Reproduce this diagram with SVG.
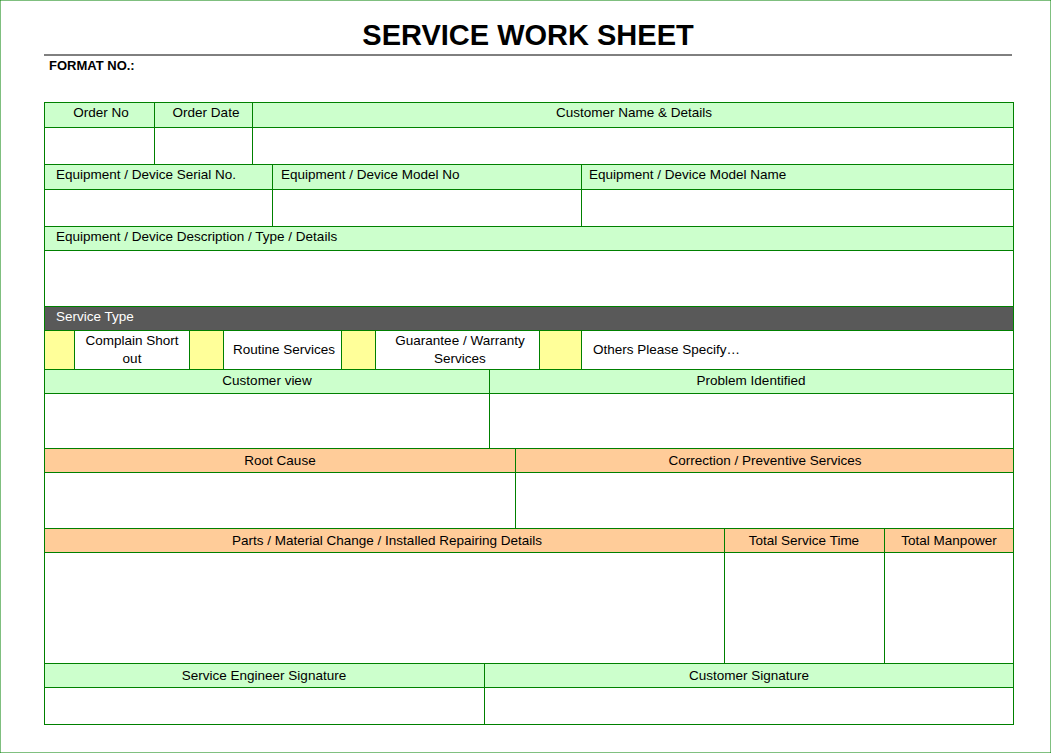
<svg xmlns="http://www.w3.org/2000/svg" width="1051" height="753" viewBox="0 0 1051 753">
<style>
text{font-family:"Liberation Sans",Arial,sans-serif;font-size:13.5px;fill:#000}
.c{text-anchor:middle}
.g{fill:#CCFFCC}.y{fill:#FFFF99}.o{fill:#FFCC99}.w{fill:#fff}
line,rect{stroke:#008000;stroke-width:1}
</style>
<rect width="1051" height="753" fill="#fff" stroke="none"/>
<text x="528" y="45" class="c" style="font-size:29px;font-weight:bold">SERVICE WORK SHEET</text>
<line x1="44" y1="55" x2="1012" y2="55" style="stroke:#000"/>
<text x="49" y="70" style="font-weight:bold;font-size:13px">FORMAT NO.:</text>
<g id="form">
<rect class="g" x="44.5" y="102.5" width="969" height="25"/>
<rect class="w" x="44.5" y="127.5" width="969" height="37"/>
<rect class="g" x="44.5" y="164.5" width="969" height="25"/>
<rect class="w" x="44.5" y="189.5" width="969" height="37"/>
<rect class="g" x="44.5" y="226.5" width="969" height="24"/>
<rect class="w" x="44.5" y="250.5" width="969" height="56"/>
<rect x="44.5" y="306.5" width="969" height="24" style="fill:#595959"/>
<rect class="w" x="44.5" y="330.5" width="969" height="39"/>
<rect class="y" x="44.5" y="330.5" width="30" height="39"/>
<rect class="y" x="189.5" y="330.5" width="34" height="39"/>
<rect class="y" x="341.5" y="330.5" width="34" height="39"/>
<rect class="y" x="539.5" y="330.5" width="42" height="39"/>
<rect class="g" x="44.5" y="369.5" width="969" height="24"/>
<rect class="w" x="44.5" y="393.5" width="969" height="55"/>
<rect class="o" x="44.5" y="448.5" width="969" height="24"/>
<rect class="w" x="44.5" y="472.5" width="969" height="56"/>
<rect class="o" x="44.5" y="528.5" width="969" height="24"/>
<rect class="w" x="44.5" y="552.5" width="969" height="111"/>
<rect class="g" x="44.5" y="663.5" width="969" height="24"/>
<rect class="w" x="44.5" y="687.5" width="969" height="37"/>
<line x1="154.5" y1="102" x2="154.5" y2="164"/>
<line x1="252.5" y1="102" x2="252.5" y2="164"/>
<line x1="272.5" y1="164" x2="272.5" y2="226"/>
<line x1="581.5" y1="164" x2="581.5" y2="226"/>
<line x1="489.5" y1="369" x2="489.5" y2="448"/>
<line x1="515.5" y1="448" x2="515.5" y2="528"/>
<line x1="724.5" y1="528" x2="724.5" y2="663"/>
<line x1="884.5" y1="528" x2="884.5" y2="663"/>
<line x1="484.5" y1="663" x2="484.5" y2="724"/>
</g>
<g id="labels">
<text x="101" y="117" class="c">Order No</text>
<text x="206" y="117" class="c">Order Date</text>
<text x="634" y="117" class="c">Customer Name &amp;  Details</text>
<text x="56" y="179">Equipment / Device Serial No.</text>
<text x="281" y="179">Equipment / Device Model No</text>
<text x="589" y="179">Equipment / Device Model Name</text>
<text x="56" y="241">Equipment / Device Description / Type / Details</text>
<text x="56" y="321" style="fill:#fff">Service Type</text>
<text x="132" y="345" class="c">Complain Short</text>
<text x="132" y="363" class="c">out</text>
<text x="284" y="354" class="c">Routine Services</text>
<text x="460" y="345" class="c">Guarantee / Warranty</text>
<text x="460" y="363" class="c">Services</text>
<text x="593" y="354">Others Please Specify…</text>
<text x="267" y="385" class="c">Customer view</text>
<text x="751" y="385" class="c">Problem Identified</text>
<text x="280" y="465" class="c">Root Cause</text>
<text x="765" y="465" class="c">Correction / Preventive Services</text>
<text x="387" y="545" class="c">Parts / Material Change / Installed Repairing Details</text>
<text x="804" y="545" class="c">Total Service Time</text>
<text x="949" y="545" class="c">Total Manpower</text>
<text x="264" y="680" class="c">Service Engineer Signature</text>
<text x="749" y="680" class="c">Customer Signature</text>
</g>
</svg>
